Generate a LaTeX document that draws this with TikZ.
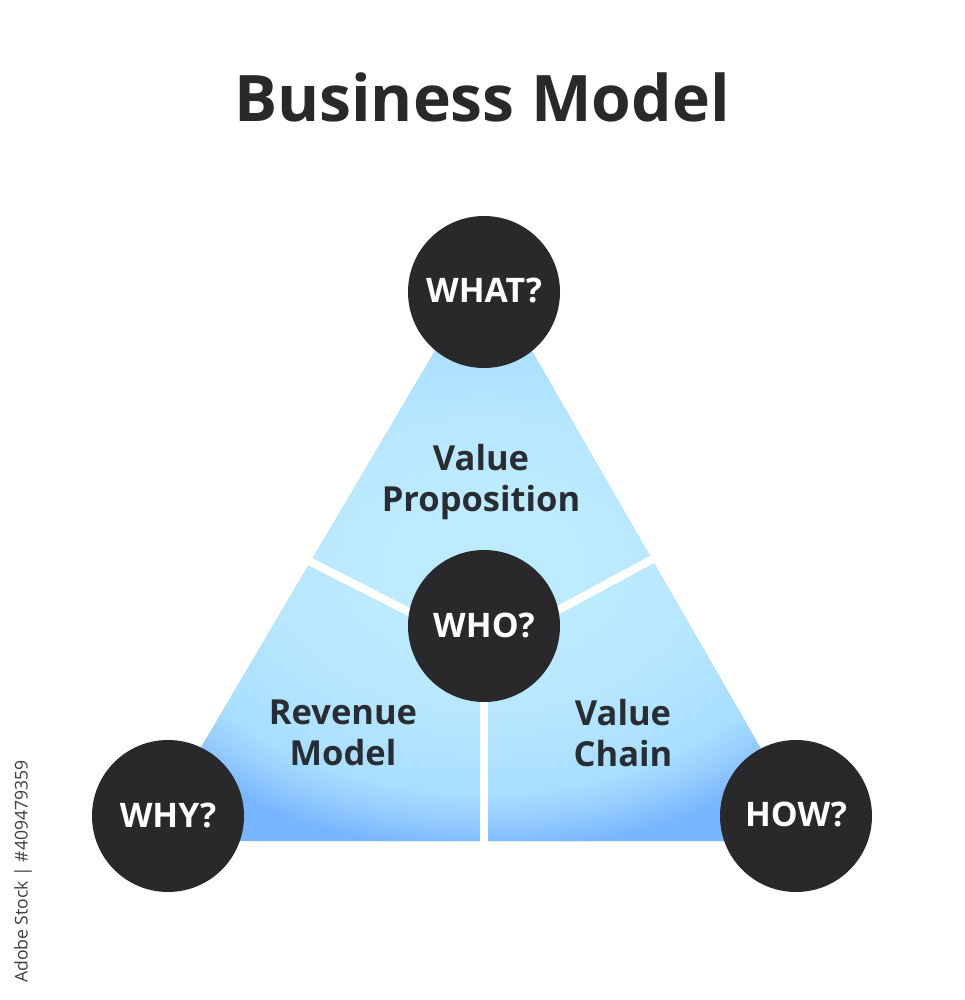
\documentclass[tikz,border=0pt]{standalone}
\usepackage{fontspec}
\setmainfont{Open Sans}
\definecolor{ink}{HTML}{29292B}
\definecolor{labelink}{HTML}{2A2C33}
\definecolor{fadeedge}{rgb}{0.47,0.71,1}
\pgfdeclareradialshading{bluefade}{\pgfpointorigin}{
  rgb(0bp)=(0.745,0.925,1);
  rgb(6bp)=(0.74,0.92,1);
  rgb(12.5bp)=(0.72,0.91,1);
  rgb(20bp)=(0.66,0.87,1);
  rgb(22.5bp)=(0.58,0.8,1);
  rgb(25bp)=(0.47,0.71,1);
  rgb(50bp)=(0.47,0.71,1)}
\tikzset{
  badge/.style={circle,fill=ink,minimum size=152pt,inner sep=0pt,text=white,font=\fontsize{33.8}{36}\selectfont\bfseries},
  seglabel/.style={align=center,text=labelink,font=\fontsize{34.5}{41.5}\selectfont\bfseries},
  divider/.style={draw=white,line width=8pt}
}
\begin{document}
\begin{tikzpicture}[x=1pt,y=-1pt]
\useasboundingbox (0,0) rectangle (964,1000);
\fill[white] (0,0) rectangle (964,1000);
\node[text=ink,font=\fontsize{64.2}{70}\selectfont\bfseries] (title) at (482,97) {Business Model};
\begin{scope}
\clip (484,268) -- (814,841) -- (146,841) -- cycle;
\fill[fadeedge] (100,250) rectangle (860,860);
\shade[shading=bluefade] (484,565) ellipse [x radius=420,y radius=285];
\end{scope}
\coordinate (hub) at (484,650);
\coordinate (edgeL) at (300,556.5);
\coordinate (edgeR) at (664,553);
\coordinate (edgeB) at (484,850);
\draw[divider] (hub) -- (edgeL);
\draw[divider] (hub) -- (edgeR);
\draw[divider] (hub) -- (edgeB);
\node[badge] (what) at (484,292) {\raisebox{2.5pt}{WHAT?}};
\node[badge] (who) at (484,626) {\raisebox{2.5pt}{WHO?}};
\node[badge] (why) at (168,816) {\raisebox{1.5pt}{WHY?}};
\node[badge] (how) at (796,816) {\raisebox{3.5pt}{HOW?}};
\node[seglabel] (vp) at (481,482) {Value\\Proposition};
\node[seglabel] (rm) at (343,733) {Revenue\\Model};
\node[seglabel] (vc) at (623,733) {Value\\Chain};
\node[rotate=90,text=ink!90,font=\fontsize{17.6}{20}\selectfont] (stock) at (23,871.5) {Adobe Stock | \#409479359};
\end{tikzpicture}
\end{document}
